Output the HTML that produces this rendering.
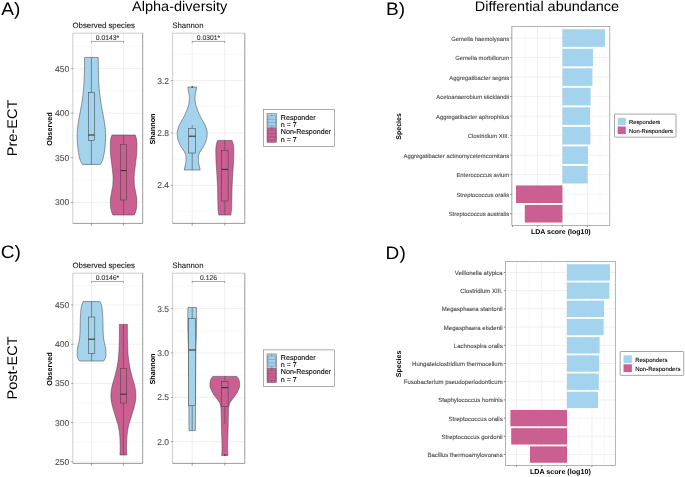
<!DOCTYPE html>
<html><head><meta charset="utf-8"><title>Figure</title>
<style>
html,body{margin:0;padding:0;background:#fff;}
svg{display:block;font-family:"Liberation Sans",Arial,sans-serif;text-rendering:geometricPrecision;}
</style></head>
<body>
<svg width="685" height="477" viewBox="0 0 685 477">
<rect width="685" height="477" fill="#fff"/>
<text transform="translate(1.2,14.8) scale(1.06,1)" font-size="18" >A)</text>
<text transform="translate(385.9,14.8) scale(1.06,1)" font-size="18" >B)</text>
<text transform="translate(0.8,258) scale(1.06,1)" font-size="18" >C)</text>
<text transform="translate(385.6,259) scale(1.06,1)" font-size="18" >D)</text>
<text transform="translate(132.0,11.3) scale(1.038,1)" font-size="14" >Alpha-diversity</text>
<text transform="translate(474.8,11.3) scale(1.032,1)" font-size="14" >Differential abundance</text>
<text transform="translate(17,128) rotate(-90) scale(1.04,1)" font-size="14" text-anchor="middle">Pre-ECT</text>
<text transform="translate(17,368) rotate(-90) scale(1.04,1)" font-size="14" text-anchor="middle">Post-ECT</text>
<rect x="72.8" y="33.2" width="69.89999999999999" height="190.2" fill="#fff"/>
<path d="M72.8,46.3H142.7" stroke="#f0f0f0" stroke-width="0.4"/>
<path d="M72.8,90.9H142.7" stroke="#f0f0f0" stroke-width="0.4"/>
<path d="M72.8,135.5H142.7" stroke="#f0f0f0" stroke-width="0.4"/>
<path d="M72.8,180.1H142.7" stroke="#f0f0f0" stroke-width="0.4"/>
<path d="M72.8,68.6H142.7" stroke="#e9e9e9" stroke-width="0.7"/>
<path d="M72.8,113.2H142.7" stroke="#e9e9e9" stroke-width="0.7"/>
<path d="M72.8,157.8H142.7" stroke="#e9e9e9" stroke-width="0.7"/>
<path d="M72.8,202.4H142.7" stroke="#e9e9e9" stroke-width="0.7"/>
<path d="M91.4,33.2V223.4" stroke="#e9e9e9" stroke-width="0.7"/>
<path d="M123.6,33.2V223.4" stroke="#e9e9e9" stroke-width="0.7"/>
<path d="M71.1,68.6H72.8" stroke="#444" stroke-width="0.5"/>
<path d="M71.1,113.2H72.8" stroke="#444" stroke-width="0.5"/>
<path d="M71.1,157.8H72.8" stroke="#444" stroke-width="0.5"/>
<path d="M71.1,202.4H72.8" stroke="#444" stroke-width="0.5"/>
<path d="M91.4,223.4V225.70000000000002" stroke="#444" stroke-width="0.5"/>
<path d="M123.6,223.4V225.70000000000002" stroke="#444" stroke-width="0.5"/>
<text x="69.3" y="71.6" font-size="8.5" fill="#4d4d4d" stroke="#4d4d4d" stroke-width="0.1" text-anchor="end">450</text>
<text x="69.3" y="116.2" font-size="8.5" fill="#4d4d4d" stroke="#4d4d4d" stroke-width="0.1" text-anchor="end">400</text>
<text x="69.3" y="160.8" font-size="8.5" fill="#4d4d4d" stroke="#4d4d4d" stroke-width="0.1" text-anchor="end">350</text>
<text x="69.3" y="205.4" font-size="8.5" fill="#4d4d4d" stroke="#4d4d4d" stroke-width="0.1" text-anchor="end">300</text>
<text x="72.5" y="28.1" font-size="7.8" fill="#1a1a1a" stroke="#1a1a1a" stroke-width="0.1">Observed species</text>
<text transform="translate(52.2,129.0) rotate(-90)" font-size="7.25" font-weight="bold" fill="#000" text-anchor="middle">Observed</text>
<path d="M91.4,43.1V41.4H123.6V43.1" stroke="#444" stroke-width="0.45" fill="none"/>
<text x="107.5" y="39.8" font-size="6.8" fill="#333" stroke="#333" stroke-width="0.1" text-anchor="middle">0.0143*</text>
<path d="M98.20,57.40 L98.21,58.75 L98.23,60.11 L98.25,61.46 L98.27,62.82 L98.29,64.17 L98.31,65.53 L98.33,66.88 L98.35,68.24 L98.38,69.59 L98.40,70.94 L98.43,72.30 L98.46,73.65 L98.50,75.01 L98.54,76.36 L98.59,77.72 L98.65,79.07 L98.71,80.43 L98.78,81.78 L98.86,83.13 L98.94,84.49 L99.02,85.84 L99.11,87.20 L99.22,88.55 L99.33,89.91 L99.46,91.26 L99.60,92.62 L99.75,93.97 L99.90,95.32 L100.07,96.68 L100.24,98.03 L100.42,99.39 L100.60,100.74 L100.81,102.10 L101.03,103.45 L101.26,104.81 L101.51,106.16 L101.76,107.51 L102.01,108.87 L102.26,110.22 L102.50,111.58 L102.75,112.93 L103.01,114.29 L103.28,115.64 L103.54,116.99 L103.79,118.35 L104.03,119.70 L104.26,121.06 L104.46,122.41 L104.67,123.77 L104.87,125.12 L105.07,126.48 L105.23,127.83 L105.35,129.18 L105.42,130.54 L105.48,131.89 L105.53,133.25 L105.57,134.60 L105.59,135.96 L105.60,137.31 L105.57,138.67 L105.52,140.02 L105.45,141.37 L105.36,142.73 L105.26,144.08 L105.17,145.44 L105.05,146.79 L104.91,148.15 L104.74,149.50 L104.56,150.86 L104.37,152.21 L104.15,153.56 L103.90,154.92 L103.62,156.27 L103.29,157.63 L102.93,158.98 L102.49,160.34 L101.94,161.69 L101.20,163.05 L100.20,164.40 L82.60,164.40 L81.60,163.05 L80.86,161.69 L80.31,160.34 L79.87,158.98 L79.51,157.63 L79.18,156.27 L78.90,154.92 L78.65,153.56 L78.43,152.21 L78.24,150.86 L78.06,149.50 L77.89,148.15 L77.75,146.79 L77.63,145.44 L77.54,144.08 L77.44,142.73 L77.35,141.37 L77.28,140.02 L77.23,138.67 L77.20,137.31 L77.21,135.96 L77.23,134.60 L77.27,133.25 L77.32,131.89 L77.38,130.54 L77.45,129.18 L77.57,127.83 L77.73,126.48 L77.93,125.12 L78.13,123.77 L78.34,122.41 L78.54,121.06 L78.77,119.70 L79.01,118.35 L79.26,116.99 L79.52,115.64 L79.79,114.29 L80.05,112.93 L80.30,111.58 L80.54,110.22 L80.79,108.87 L81.04,107.51 L81.29,106.16 L81.54,104.81 L81.77,103.45 L81.99,102.10 L82.20,100.74 L82.38,99.39 L82.56,98.03 L82.73,96.68 L82.90,95.32 L83.05,93.97 L83.20,92.62 L83.34,91.26 L83.47,89.91 L83.58,88.55 L83.69,87.20 L83.78,85.84 L83.86,84.49 L83.94,83.13 L84.02,81.78 L84.09,80.43 L84.15,79.07 L84.21,77.72 L84.26,76.36 L84.30,75.01 L84.34,73.65 L84.37,72.30 L84.40,70.94 L84.42,69.59 L84.45,68.24 L84.47,66.88 L84.49,65.53 L84.51,64.17 L84.53,62.82 L84.55,61.46 L84.57,60.11 L84.59,58.75 L84.60,57.40Z" fill="#a4d3ed" stroke="#444" stroke-width="0.55" stroke-linejoin="round"/>
<path d="M91.4,57.4V92.6M91.4,140.4V164.4" stroke="#444" stroke-width="0.55" fill="none"/>
<rect x="88.30000000000001" y="92.6" width="6.2" height="47.80000000000001" fill="#a4d3ed" stroke="#444" stroke-width="0.55"/>
<path d="M88.30000000000001,135H94.5" stroke="#333" stroke-width="1.1" fill="none"/>
<path d="M135.10,135.00 L135.55,136.01 L135.94,137.03 L136.21,138.04 L136.39,139.05 L136.56,140.06 L136.70,141.08 L136.81,142.09 L136.88,143.10 L136.90,144.11 L136.90,145.13 L136.89,146.14 L136.88,147.15 L136.87,148.16 L136.85,149.18 L136.84,150.19 L136.82,151.20 L136.79,152.22 L136.75,153.23 L136.67,154.24 L136.57,155.25 L136.45,156.27 L136.33,157.28 L136.20,158.29 L136.08,159.30 L135.97,160.32 L135.85,161.33 L135.73,162.34 L135.60,163.35 L135.47,164.37 L135.34,165.38 L135.21,166.39 L135.09,167.41 L134.97,168.42 L134.86,169.43 L134.75,170.44 L134.64,171.46 L134.52,172.47 L134.41,173.48 L134.30,174.49 L134.21,175.51 L134.14,176.52 L134.10,177.53 L134.10,178.54 L134.12,179.56 L134.15,180.57 L134.19,181.58 L134.25,182.59 L134.31,183.61 L134.37,184.62 L134.45,185.63 L134.58,186.65 L134.75,187.66 L134.94,188.67 L135.15,189.68 L135.37,190.70 L135.57,191.71 L135.75,192.72 L135.92,193.73 L136.11,194.75 L136.30,195.76 L136.48,196.77 L136.64,197.78 L136.75,198.80 L136.80,199.81 L136.80,200.82 L136.79,201.84 L136.78,202.85 L136.76,203.86 L136.73,204.87 L136.70,205.89 L136.64,206.90 L136.49,207.91 L136.30,208.92 L136.06,209.94 L135.81,210.95 L135.53,211.96 L135.17,212.97 L134.75,213.99 L134.30,215.00 L112.90,215.00 L112.45,213.99 L112.03,212.97 L111.67,211.96 L111.39,210.95 L111.14,209.94 L110.90,208.92 L110.71,207.91 L110.56,206.90 L110.50,205.89 L110.47,204.87 L110.44,203.86 L110.42,202.85 L110.41,201.84 L110.40,200.82 L110.40,199.81 L110.45,198.80 L110.56,197.78 L110.72,196.77 L110.90,195.76 L111.09,194.75 L111.28,193.73 L111.45,192.72 L111.63,191.71 L111.83,190.70 L112.05,189.68 L112.26,188.67 L112.45,187.66 L112.62,186.65 L112.75,185.63 L112.83,184.62 L112.89,183.61 L112.95,182.59 L113.01,181.58 L113.05,180.57 L113.08,179.56 L113.10,178.54 L113.10,177.53 L113.06,176.52 L112.99,175.51 L112.90,174.49 L112.79,173.48 L112.68,172.47 L112.56,171.46 L112.45,170.44 L112.34,169.43 L112.23,168.42 L112.11,167.41 L111.99,166.39 L111.86,165.38 L111.73,164.37 L111.60,163.35 L111.47,162.34 L111.35,161.33 L111.23,160.32 L111.12,159.30 L111.00,158.29 L110.87,157.28 L110.75,156.27 L110.63,155.25 L110.53,154.24 L110.45,153.23 L110.41,152.22 L110.38,151.20 L110.36,150.19 L110.35,149.18 L110.33,148.16 L110.32,147.15 L110.31,146.14 L110.30,145.13 L110.30,144.11 L110.32,143.10 L110.39,142.09 L110.50,141.08 L110.64,140.06 L110.81,139.05 L110.99,138.04 L111.26,137.03 L111.65,136.01 L112.10,135.00Z" fill="#cc5f92" stroke="#444" stroke-width="0.55" stroke-linejoin="round"/>
<path d="M123.6,135V144.4M123.6,200V215" stroke="#444" stroke-width="0.55" fill="none"/>
<rect x="120.69999999999999" y="144.4" width="5.8" height="55.599999999999994" fill="#cc5f92" stroke="#444" stroke-width="0.55"/>
<path d="M120.69999999999999,170.6H126.5" stroke="#333" stroke-width="1.1" fill="none"/>
<path d="M72.8,33.2H142.7" stroke="#333" stroke-opacity="0.35" stroke-width="0.7"/>
<path d="M72.8,33.2V223.4" stroke="#333" stroke-opacity="0.35" stroke-width="0.7"/>
<path d="M142.7,33.2V223.4" stroke="#333" stroke-opacity="0.7" stroke-width="0.7"/>
<path d="M72.8,223.4H142.7" stroke="#333" stroke-opacity="0.7" stroke-width="0.7"/>
<rect x="172.6" y="33.2" width="72.20000000000002" height="190.2" fill="#fff"/>
<path d="M172.6,54.4H244.8" stroke="#f0f0f0" stroke-width="0.4"/>
<path d="M172.6,106.7H244.8" stroke="#f0f0f0" stroke-width="0.4"/>
<path d="M172.6,159.1H244.8" stroke="#f0f0f0" stroke-width="0.4"/>
<path d="M172.6,211.4H244.8" stroke="#f0f0f0" stroke-width="0.4"/>
<path d="M172.6,80.6H244.8" stroke="#e9e9e9" stroke-width="0.7"/>
<path d="M172.6,132.9H244.8" stroke="#e9e9e9" stroke-width="0.7"/>
<path d="M172.6,185.3H244.8" stroke="#e9e9e9" stroke-width="0.7"/>
<path d="M192.2,33.2V223.4" stroke="#e9e9e9" stroke-width="0.7"/>
<path d="M224.8,33.2V223.4" stroke="#e9e9e9" stroke-width="0.7"/>
<path d="M170.9,80.6H172.6" stroke="#444" stroke-width="0.5"/>
<path d="M170.9,132.9H172.6" stroke="#444" stroke-width="0.5"/>
<path d="M170.9,185.3H172.6" stroke="#444" stroke-width="0.5"/>
<path d="M192.2,223.4V225.70000000000002" stroke="#444" stroke-width="0.5"/>
<path d="M224.8,223.4V225.70000000000002" stroke="#444" stroke-width="0.5"/>
<text x="169.1" y="83.6" font-size="8.5" fill="#4d4d4d" stroke="#4d4d4d" stroke-width="0.1" text-anchor="end">3.2</text>
<text x="169.1" y="135.9" font-size="8.5" fill="#4d4d4d" stroke="#4d4d4d" stroke-width="0.1" text-anchor="end">2.8</text>
<text x="169.1" y="188.3" font-size="8.5" fill="#4d4d4d" stroke="#4d4d4d" stroke-width="0.1" text-anchor="end">2.4</text>
<text x="172.29999999999998" y="28.1" font-size="7.8" fill="#1a1a1a" stroke="#1a1a1a" stroke-width="0.1">Shannon</text>
<text transform="translate(155.0,129.0) rotate(-90)" font-size="7.25" font-weight="bold" fill="#000" text-anchor="middle">Shannon</text>
<path d="M192.2,43.1V41.4H224.8V43.1" stroke="#444" stroke-width="0.45" fill="none"/>
<text x="208.5" y="39.8" font-size="6.8" fill="#333" stroke="#333" stroke-width="0.1" text-anchor="middle">0.0301*</text>
<path d="M196.40,87.00 L196.36,88.05 L196.28,89.10 L196.18,90.15 L196.00,91.20 L195.76,92.25 L195.52,93.30 L195.35,94.35 L195.21,95.41 L195.08,96.46 L195.01,97.51 L195.01,98.56 L195.05,99.61 L195.14,100.66 L195.25,101.71 L195.37,102.76 L195.53,103.81 L195.79,104.86 L196.11,105.91 L196.46,106.96 L196.80,108.01 L197.16,109.06 L197.54,110.11 L197.94,111.16 L198.37,112.22 L198.82,113.27 L199.30,114.32 L199.82,115.37 L200.36,116.42 L200.92,117.47 L201.48,118.52 L202.08,119.57 L202.69,120.62 L203.30,121.67 L203.86,122.72 L204.39,123.77 L204.91,124.82 L205.41,125.87 L205.85,126.92 L206.19,127.97 L206.49,129.03 L206.77,130.08 L207.00,131.13 L207.16,132.18 L207.20,133.23 L207.17,134.28 L207.09,135.33 L206.99,136.38 L206.87,137.43 L206.72,138.48 L206.48,139.53 L206.14,140.58 L205.75,141.63 L205.33,142.68 L204.88,143.73 L204.35,144.78 L203.77,145.84 L203.15,146.89 L202.54,147.94 L201.87,148.99 L201.13,150.04 L200.41,151.09 L199.78,152.14 L199.33,153.19 L198.96,154.24 L198.64,155.29 L198.44,156.34 L198.40,157.39 L198.40,158.44 L198.40,159.49 L198.40,160.54 L198.43,161.59 L198.58,162.65 L198.81,163.70 L199.05,164.75 L199.26,165.80 L199.48,166.85 L199.71,167.90 L199.95,168.95 L200.20,170.00 L184.20,170.00 L184.45,168.95 L184.69,167.90 L184.92,166.85 L185.14,165.80 L185.35,164.75 L185.59,163.70 L185.82,162.65 L185.97,161.59 L186.00,160.54 L186.00,159.49 L186.00,158.44 L186.00,157.39 L185.96,156.34 L185.76,155.29 L185.44,154.24 L185.07,153.19 L184.62,152.14 L183.99,151.09 L183.27,150.04 L182.53,148.99 L181.86,147.94 L181.25,146.89 L180.63,145.84 L180.05,144.78 L179.52,143.73 L179.07,142.68 L178.65,141.63 L178.26,140.58 L177.92,139.53 L177.68,138.48 L177.53,137.43 L177.41,136.38 L177.31,135.33 L177.23,134.28 L177.20,133.23 L177.24,132.18 L177.40,131.13 L177.63,130.08 L177.91,129.03 L178.21,127.97 L178.55,126.92 L178.99,125.87 L179.49,124.82 L180.01,123.77 L180.54,122.72 L181.10,121.67 L181.71,120.62 L182.32,119.57 L182.92,118.52 L183.48,117.47 L184.04,116.42 L184.58,115.37 L185.10,114.32 L185.58,113.27 L186.03,112.22 L186.46,111.16 L186.86,110.11 L187.24,109.06 L187.60,108.01 L187.94,106.96 L188.29,105.91 L188.61,104.86 L188.87,103.81 L189.03,102.76 L189.15,101.71 L189.26,100.66 L189.35,99.61 L189.39,98.56 L189.39,97.51 L189.32,96.46 L189.19,95.41 L189.05,94.35 L188.88,93.30 L188.64,92.25 L188.40,91.20 L188.22,90.15 L188.12,89.10 L188.04,88.05 L188.00,87.00Z" fill="#a4d3ed" stroke="#444" stroke-width="0.55" stroke-linejoin="round"/>
<path d="M192.2,125V128.4M192.2,153V170" stroke="#444" stroke-width="0.55" fill="none"/>
<rect x="188.7" y="128.4" width="7.0" height="24.599999999999994" fill="#a4d3ed" stroke="#444" stroke-width="0.55"/>
<path d="M188.7,136.2H195.7" stroke="#333" stroke-width="1.1" fill="none"/>
<circle cx="192.2" cy="87" r="0.8" fill="#222"/>
<path d="M232.00,140.40 L232.34,141.34 L232.65,142.29 L232.93,143.23 L233.15,144.18 L233.32,145.12 L233.46,146.07 L233.58,147.01 L233.69,147.95 L233.77,148.90 L233.80,149.84 L233.80,150.79 L233.79,151.73 L233.78,152.68 L233.77,153.62 L233.75,154.56 L233.73,155.51 L233.70,156.45 L233.68,157.40 L233.65,158.34 L233.62,159.29 L233.59,160.23 L233.56,161.17 L233.51,162.12 L233.46,163.06 L233.40,164.01 L233.34,164.95 L233.28,165.90 L233.21,166.84 L233.14,167.78 L233.08,168.73 L233.02,169.67 L232.96,170.62 L232.90,171.56 L232.84,172.51 L232.78,173.45 L232.72,174.39 L232.66,175.34 L232.61,176.28 L232.55,177.23 L232.50,178.17 L232.44,179.12 L232.40,180.06 L232.35,181.01 L232.31,181.95 L232.26,182.89 L232.22,183.84 L232.18,184.78 L232.14,185.73 L232.11,186.67 L232.07,187.62 L232.04,188.56 L232.01,189.50 L231.99,190.45 L231.97,191.39 L231.95,192.34 L231.93,193.28 L231.91,194.23 L231.89,195.17 L231.87,196.11 L231.86,197.06 L231.84,198.00 L231.82,198.95 L231.80,199.89 L231.78,200.84 L231.76,201.78 L231.75,202.72 L231.73,203.67 L231.71,204.61 L231.68,205.56 L231.65,206.50 L231.62,207.45 L231.58,208.39 L231.52,209.33 L231.44,210.28 L231.33,211.22 L231.22,212.17 L231.08,213.11 L230.95,214.06 L230.80,215.00 L218.80,215.00 L218.65,214.06 L218.52,213.11 L218.38,212.17 L218.27,211.22 L218.16,210.28 L218.08,209.33 L218.02,208.39 L217.98,207.45 L217.95,206.50 L217.92,205.56 L217.89,204.61 L217.87,203.67 L217.85,202.72 L217.84,201.78 L217.82,200.84 L217.80,199.89 L217.78,198.95 L217.76,198.00 L217.74,197.06 L217.73,196.11 L217.71,195.17 L217.69,194.23 L217.67,193.28 L217.65,192.34 L217.63,191.39 L217.61,190.45 L217.59,189.50 L217.56,188.56 L217.53,187.62 L217.49,186.67 L217.46,185.73 L217.42,184.78 L217.38,183.84 L217.34,182.89 L217.29,181.95 L217.25,181.01 L217.20,180.06 L217.16,179.12 L217.10,178.17 L217.05,177.23 L216.99,176.28 L216.94,175.34 L216.88,174.39 L216.82,173.45 L216.76,172.51 L216.70,171.56 L216.64,170.62 L216.58,169.67 L216.52,168.73 L216.46,167.78 L216.39,166.84 L216.32,165.90 L216.26,164.95 L216.20,164.01 L216.14,163.06 L216.09,162.12 L216.04,161.17 L216.01,160.23 L215.98,159.29 L215.95,158.34 L215.92,157.40 L215.90,156.45 L215.87,155.51 L215.85,154.56 L215.83,153.62 L215.82,152.68 L215.81,151.73 L215.80,150.79 L215.80,149.84 L215.83,148.90 L215.91,147.95 L216.02,147.01 L216.14,146.07 L216.28,145.12 L216.45,144.18 L216.67,143.23 L216.95,142.29 L217.26,141.34 L217.60,140.40Z" fill="#cc5f92" stroke="#444" stroke-width="0.55" stroke-linejoin="round"/>
<path d="M224.8,140.4V150.4M224.8,201V215" stroke="#444" stroke-width="0.55" fill="none"/>
<rect x="221.5" y="150.4" width="6.6" height="50.599999999999994" fill="#cc5f92" stroke="#444" stroke-width="0.55"/>
<path d="M221.5,169.4H228.10000000000002" stroke="#333" stroke-width="1.1" fill="none"/>
<path d="M172.6,33.2H244.8" stroke="#333" stroke-opacity="0.35" stroke-width="0.7"/>
<path d="M172.6,33.2V223.4" stroke="#333" stroke-opacity="0.35" stroke-width="0.7"/>
<path d="M244.8,33.2V223.4" stroke="#333" stroke-opacity="0.7" stroke-width="0.7"/>
<path d="M172.6,223.4H244.8" stroke="#333" stroke-opacity="0.7" stroke-width="0.7"/>
<rect x="263.4" y="109.6" width="71.2" height="36.8" fill="#fff" stroke="#777" stroke-width="0.6"/>
<rect x="267.0" y="113.6" width="9.6" height="14.4" fill="#a4d3ed" stroke="#666" stroke-width="0.5"/>
<path d="M271.8,113.6V115.75999999999999M271.8,125.83999999999999V128.0M267.8,115.75999999999999H275.8M267.8,119.14399999999999H275.8M267.8,122.45599999999999H275.8M267.8,125.83999999999999H275.8M267.8,115.75999999999999V125.83999999999999M275.8,115.75999999999999V125.83999999999999" stroke="#444" stroke-opacity="0.55" stroke-width="0.5" fill="none"/>
<rect x="267.0" y="128.0" width="9.6" height="14.4" fill="#cc5f92" stroke="#666" stroke-width="0.5"/>
<path d="M271.8,128.0V130.16M271.8,140.24V142.4M267.8,130.16H275.8M267.8,133.544H275.8M267.8,136.856H275.8M267.8,140.24H275.8M267.8,130.16V140.24M275.8,130.16V140.24" stroke="#444" stroke-opacity="0.55" stroke-width="0.5" fill="none"/>
<text x="280.8" y="119.50" font-size="7.12" fill="#000" stroke="#000" stroke-width="0.1">Responder</text>
<text x="280.8" y="127.10" font-size="7.12" fill="#000" stroke="#000" stroke-width="0.1">n = 7</text>
<text x="280.8" y="134.00" font-size="7.12" fill="#000" stroke="#000" stroke-width="0.1">Non-Responder</text>
<text x="280.8" y="141.70" font-size="7.12" fill="#000" stroke="#000" stroke-width="0.1">n = 7</text>
<rect x="72.8" y="273.2" width="69.89999999999999" height="190.2" fill="#fff"/>
<path d="M72.8,285.4H142.7" stroke="#f0f0f0" stroke-width="0.4"/>
<path d="M72.8,324.6H142.7" stroke="#f0f0f0" stroke-width="0.4"/>
<path d="M72.8,363.8H142.7" stroke="#f0f0f0" stroke-width="0.4"/>
<path d="M72.8,403H142.7" stroke="#f0f0f0" stroke-width="0.4"/>
<path d="M72.8,442.2H142.7" stroke="#f0f0f0" stroke-width="0.4"/>
<path d="M72.8,305H142.7" stroke="#e9e9e9" stroke-width="0.7"/>
<path d="M72.8,344.2H142.7" stroke="#e9e9e9" stroke-width="0.7"/>
<path d="M72.8,383.4H142.7" stroke="#e9e9e9" stroke-width="0.7"/>
<path d="M72.8,422.6H142.7" stroke="#e9e9e9" stroke-width="0.7"/>
<path d="M72.8,461.8H142.7" stroke="#e9e9e9" stroke-width="0.7"/>
<path d="M91.6,273.2V463.4" stroke="#e9e9e9" stroke-width="0.7"/>
<path d="M123.4,273.2V463.4" stroke="#e9e9e9" stroke-width="0.7"/>
<path d="M71.1,305H72.8" stroke="#444" stroke-width="0.5"/>
<path d="M71.1,344.2H72.8" stroke="#444" stroke-width="0.5"/>
<path d="M71.1,383.4H72.8" stroke="#444" stroke-width="0.5"/>
<path d="M71.1,422.6H72.8" stroke="#444" stroke-width="0.5"/>
<path d="M71.1,461.8H72.8" stroke="#444" stroke-width="0.5"/>
<path d="M91.6,463.4V465.7" stroke="#444" stroke-width="0.5"/>
<path d="M123.4,463.4V465.7" stroke="#444" stroke-width="0.5"/>
<text x="69.3" y="308.0" font-size="8.5" fill="#4d4d4d" stroke="#4d4d4d" stroke-width="0.1" text-anchor="end">450</text>
<text x="69.3" y="347.2" font-size="8.5" fill="#4d4d4d" stroke="#4d4d4d" stroke-width="0.1" text-anchor="end">400</text>
<text x="69.3" y="386.4" font-size="8.5" fill="#4d4d4d" stroke="#4d4d4d" stroke-width="0.1" text-anchor="end">350</text>
<text x="69.3" y="425.6" font-size="8.5" fill="#4d4d4d" stroke="#4d4d4d" stroke-width="0.1" text-anchor="end">300</text>
<text x="69.3" y="464.8" font-size="8.5" fill="#4d4d4d" stroke="#4d4d4d" stroke-width="0.1" text-anchor="end">250</text>
<text x="72.5" y="268.09999999999997" font-size="7.8" fill="#1a1a1a" stroke="#1a1a1a" stroke-width="0.1">Observed species</text>
<text transform="translate(52.2,368.99999999999994) rotate(-90)" font-size="7.25" font-weight="bold" fill="#000" text-anchor="middle">Observed</text>
<path d="M91.6,283.2V281.5H123.4V283.2" stroke="#444" stroke-width="0.45" fill="none"/>
<text x="107.5" y="279.9" font-size="6.8" fill="#333" stroke="#333" stroke-width="0.1" text-anchor="middle">0.0146*</text>
<path d="M100.10,301.60 L100.44,302.35 L100.76,303.10 L101.05,303.86 L101.29,304.61 L101.49,305.36 L101.66,306.11 L101.82,306.86 L101.97,307.62 L102.09,308.37 L102.20,309.12 L102.29,309.87 L102.36,310.62 L102.42,311.37 L102.48,312.13 L102.54,312.88 L102.59,313.63 L102.64,314.38 L102.69,315.13 L102.73,315.89 L102.77,316.64 L102.80,317.39 L102.84,318.14 L102.86,318.89 L102.89,319.65 L102.91,320.40 L102.93,321.15 L102.95,321.90 L102.96,322.65 L102.97,323.41 L102.99,324.16 L103.00,324.91 L103.01,325.66 L103.02,326.41 L103.03,327.16 L103.05,327.92 L103.06,328.67 L103.08,329.42 L103.11,330.17 L103.13,330.92 L103.16,331.68 L103.20,332.43 L103.24,333.18 L103.28,333.93 L103.33,334.68 L103.38,335.44 L103.44,336.19 L103.50,336.94 L103.57,337.69 L103.65,338.44 L103.76,339.19 L103.89,339.95 L104.04,340.70 L104.21,341.45 L104.38,342.20 L104.56,342.95 L104.73,343.71 L104.89,344.46 L105.04,345.21 L105.20,345.96 L105.37,346.71 L105.54,347.47 L105.69,348.22 L105.81,348.97 L105.89,349.72 L105.92,350.47 L105.94,351.23 L105.96,351.98 L105.98,352.73 L105.99,353.48 L106.00,354.23 L106.00,354.98 L105.95,355.74 L105.82,356.49 L105.62,357.24 L105.40,357.99 L105.11,358.74 L104.69,359.50 L104.18,360.25 L103.60,361.00 L79.60,361.00 L79.02,360.25 L78.51,359.50 L78.09,358.74 L77.80,357.99 L77.58,357.24 L77.38,356.49 L77.25,355.74 L77.20,354.98 L77.20,354.23 L77.21,353.48 L77.22,352.73 L77.24,351.98 L77.26,351.23 L77.28,350.47 L77.31,349.72 L77.39,348.97 L77.51,348.22 L77.66,347.47 L77.83,346.71 L78.00,345.96 L78.16,345.21 L78.31,344.46 L78.47,343.71 L78.64,342.95 L78.82,342.20 L78.99,341.45 L79.16,340.70 L79.31,339.95 L79.44,339.19 L79.55,338.44 L79.63,337.69 L79.70,336.94 L79.76,336.19 L79.82,335.44 L79.87,334.68 L79.92,333.93 L79.96,333.18 L80.00,332.43 L80.04,331.68 L80.07,330.92 L80.09,330.17 L80.12,329.42 L80.14,328.67 L80.15,327.92 L80.17,327.16 L80.18,326.41 L80.19,325.66 L80.20,324.91 L80.21,324.16 L80.23,323.41 L80.24,322.65 L80.25,321.90 L80.27,321.15 L80.29,320.40 L80.31,319.65 L80.34,318.89 L80.36,318.14 L80.40,317.39 L80.43,316.64 L80.47,315.89 L80.51,315.13 L80.56,314.38 L80.61,313.63 L80.66,312.88 L80.72,312.13 L80.78,311.37 L80.84,310.62 L80.91,309.87 L81.00,309.12 L81.11,308.37 L81.23,307.62 L81.38,306.86 L81.54,306.11 L81.71,305.36 L81.91,304.61 L82.15,303.86 L82.44,303.10 L82.76,302.35 L83.10,301.60Z" fill="#a4d3ed" stroke="#444" stroke-width="0.55" stroke-linejoin="round"/>
<path d="M91.6,301.6V317M91.6,353.4V361" stroke="#444" stroke-width="0.55" fill="none"/>
<rect x="88.39999999999999" y="317" width="6.4" height="36.39999999999998" fill="#a4d3ed" stroke="#444" stroke-width="0.55"/>
<path d="M88.39999999999999,339.2H94.8" stroke="#333" stroke-width="1.1" fill="none"/>
<path d="M127.40,324.40 L127.40,326.05 L127.40,327.71 L127.40,329.36 L127.40,331.01 L127.40,332.67 L127.40,334.32 L127.40,335.97 L127.42,337.63 L127.45,339.28 L127.49,340.93 L127.53,342.58 L127.58,344.24 L127.63,345.89 L127.69,347.54 L127.76,349.20 L127.84,350.85 L127.94,352.50 L128.04,354.16 L128.16,355.81 L128.32,357.46 L128.51,359.12 L128.73,360.77 L128.96,362.42 L129.23,364.08 L129.53,365.73 L129.85,367.38 L130.19,369.04 L130.55,370.69 L130.94,372.34 L131.35,373.99 L131.77,375.65 L132.21,377.30 L132.67,378.95 L133.17,380.61 L133.69,382.26 L134.18,383.91 L134.61,385.57 L134.95,387.22 L135.28,388.87 L135.54,390.53 L135.71,392.18 L135.83,393.83 L135.90,395.49 L135.87,397.14 L135.73,398.79 L135.55,400.45 L135.28,402.10 L134.93,403.75 L134.54,405.41 L134.14,407.06 L133.68,408.71 L133.19,410.36 L132.69,412.02 L132.21,413.67 L131.72,415.32 L131.21,416.98 L130.70,418.63 L130.15,420.28 L129.60,421.94 L129.11,423.59 L128.69,425.24 L128.29,426.90 L127.95,428.55 L127.67,430.20 L127.43,431.86 L127.23,433.51 L127.07,435.16 L126.94,436.82 L126.84,438.47 L126.76,440.12 L126.71,441.77 L126.66,443.43 L126.63,445.08 L126.61,446.73 L126.60,448.39 L126.64,450.04 L126.69,451.69 L126.74,453.35 L126.80,455.00 L120.00,455.00 L120.06,453.35 L120.11,451.69 L120.16,450.04 L120.20,448.39 L120.19,446.73 L120.17,445.08 L120.14,443.43 L120.09,441.77 L120.04,440.12 L119.96,438.47 L119.86,436.82 L119.73,435.16 L119.57,433.51 L119.37,431.86 L119.13,430.20 L118.85,428.55 L118.51,426.90 L118.11,425.24 L117.69,423.59 L117.20,421.94 L116.65,420.28 L116.10,418.63 L115.59,416.98 L115.08,415.32 L114.59,413.67 L114.11,412.02 L113.61,410.36 L113.12,408.71 L112.66,407.06 L112.26,405.41 L111.87,403.75 L111.52,402.10 L111.25,400.45 L111.07,398.79 L110.93,397.14 L110.90,395.49 L110.97,393.83 L111.09,392.18 L111.26,390.53 L111.52,388.87 L111.85,387.22 L112.19,385.57 L112.62,383.91 L113.11,382.26 L113.63,380.61 L114.13,378.95 L114.59,377.30 L115.03,375.65 L115.45,373.99 L115.86,372.34 L116.25,370.69 L116.61,369.04 L116.95,367.38 L117.27,365.73 L117.57,364.08 L117.84,362.42 L118.07,360.77 L118.29,359.12 L118.48,357.46 L118.64,355.81 L118.76,354.16 L118.86,352.50 L118.96,350.85 L119.04,349.20 L119.11,347.54 L119.17,345.89 L119.22,344.24 L119.27,342.58 L119.31,340.93 L119.35,339.28 L119.38,337.63 L119.40,335.97 L119.40,334.32 L119.40,332.67 L119.40,331.01 L119.40,329.36 L119.40,327.71 L119.40,326.05 L119.40,324.40Z" fill="#cc5f92" stroke="#444" stroke-width="0.55" stroke-linejoin="round"/>
<path d="M123.4,324.4V368.4M123.4,403V455" stroke="#444" stroke-width="0.55" fill="none"/>
<rect x="120.5" y="368.4" width="5.8" height="34.60000000000002" fill="#cc5f92" stroke="#444" stroke-width="0.55"/>
<path d="M120.5,394.2H126.30000000000001" stroke="#333" stroke-width="1.1" fill="none"/>
<path d="M72.8,273.2H142.7" stroke="#333" stroke-opacity="0.35" stroke-width="0.7"/>
<path d="M72.8,273.2V463.4" stroke="#333" stroke-opacity="0.35" stroke-width="0.7"/>
<path d="M142.7,273.2V463.4" stroke="#333" stroke-opacity="0.7" stroke-width="0.7"/>
<path d="M72.8,463.4H142.7" stroke="#333" stroke-opacity="0.7" stroke-width="0.7"/>
<rect x="172.6" y="273.2" width="72.20000000000002" height="190.2" fill="#fff"/>
<path d="M172.6,286.4H244.8" stroke="#f0f0f0" stroke-width="0.4"/>
<path d="M172.6,330.8H244.8" stroke="#f0f0f0" stroke-width="0.4"/>
<path d="M172.6,375.2H244.8" stroke="#f0f0f0" stroke-width="0.4"/>
<path d="M172.6,419.5H244.8" stroke="#f0f0f0" stroke-width="0.4"/>
<path d="M172.6,308.6H244.8" stroke="#e9e9e9" stroke-width="0.7"/>
<path d="M172.6,353H244.8" stroke="#e9e9e9" stroke-width="0.7"/>
<path d="M172.6,397.4H244.8" stroke="#e9e9e9" stroke-width="0.7"/>
<path d="M172.6,441.6H244.8" stroke="#e9e9e9" stroke-width="0.7"/>
<path d="M192.2,273.2V463.4" stroke="#e9e9e9" stroke-width="0.7"/>
<path d="M224.8,273.2V463.4" stroke="#e9e9e9" stroke-width="0.7"/>
<path d="M170.9,308.6H172.6" stroke="#444" stroke-width="0.5"/>
<path d="M170.9,353H172.6" stroke="#444" stroke-width="0.5"/>
<path d="M170.9,397.4H172.6" stroke="#444" stroke-width="0.5"/>
<path d="M170.9,441.6H172.6" stroke="#444" stroke-width="0.5"/>
<path d="M192.2,463.4V465.7" stroke="#444" stroke-width="0.5"/>
<path d="M224.8,463.4V465.7" stroke="#444" stroke-width="0.5"/>
<text x="169.1" y="311.6" font-size="8.5" fill="#4d4d4d" stroke="#4d4d4d" stroke-width="0.1" text-anchor="end">3.5</text>
<text x="169.1" y="356.0" font-size="8.5" fill="#4d4d4d" stroke="#4d4d4d" stroke-width="0.1" text-anchor="end">3.0</text>
<text x="169.1" y="400.4" font-size="8.5" fill="#4d4d4d" stroke="#4d4d4d" stroke-width="0.1" text-anchor="end">2.5</text>
<text x="169.1" y="444.6" font-size="8.5" fill="#4d4d4d" stroke="#4d4d4d" stroke-width="0.1" text-anchor="end">2.0</text>
<text x="172.29999999999998" y="268.09999999999997" font-size="7.8" fill="#1a1a1a" stroke="#1a1a1a" stroke-width="0.1">Shannon</text>
<text transform="translate(155.0,368.99999999999994) rotate(-90)" font-size="7.25" font-weight="bold" fill="#000" text-anchor="middle">Shannon</text>
<path d="M192.2,283.2V281.5H224.8V283.2" stroke="#444" stroke-width="0.45" fill="none"/>
<text x="208.5" y="279.9" font-size="6.8" fill="#333" stroke="#333" stroke-width="0.1" text-anchor="middle">0.126</text>
<path d="M196.40,307.40 L196.46,308.96 L196.51,310.52 L196.56,312.08 L196.59,313.64 L196.60,315.20 L196.60,316.76 L196.60,318.32 L196.60,319.88 L196.60,321.44 L196.60,322.99 L196.60,324.55 L196.60,326.11 L196.58,327.67 L196.55,329.23 L196.51,330.79 L196.46,332.35 L196.41,333.91 L196.35,335.47 L196.30,337.03 L196.24,338.59 L196.20,340.15 L196.15,341.71 L196.09,343.27 L196.03,344.83 L195.97,346.39 L195.92,347.95 L195.87,349.51 L195.83,351.07 L195.80,352.63 L195.79,354.18 L195.78,355.74 L195.76,357.30 L195.75,358.86 L195.75,360.42 L195.74,361.98 L195.73,363.54 L195.72,365.10 L195.72,366.66 L195.71,368.22 L195.70,369.78 L195.69,371.34 L195.68,372.90 L195.68,374.46 L195.67,376.02 L195.66,377.58 L195.65,379.14 L195.65,380.70 L195.64,382.26 L195.63,383.82 L195.62,385.37 L195.62,386.93 L195.61,388.49 L195.60,390.05 L195.59,391.61 L195.58,393.17 L195.58,394.73 L195.57,396.29 L195.56,397.85 L195.55,399.41 L195.54,400.97 L195.54,402.53 L195.53,404.09 L195.52,405.65 L195.51,407.21 L195.51,408.77 L195.50,410.33 L195.49,411.89 L195.48,413.45 L195.48,415.01 L195.47,416.56 L195.46,418.12 L195.45,419.68 L195.45,421.24 L195.44,422.80 L195.43,424.36 L195.42,425.92 L195.41,427.48 L195.41,429.04 L195.40,430.60 L189.00,430.60 L188.99,429.04 L188.99,427.48 L188.98,425.92 L188.97,424.36 L188.96,422.80 L188.95,421.24 L188.95,419.68 L188.94,418.12 L188.93,416.56 L188.92,415.01 L188.92,413.45 L188.91,411.89 L188.90,410.33 L188.89,408.77 L188.89,407.21 L188.88,405.65 L188.87,404.09 L188.86,402.53 L188.86,400.97 L188.85,399.41 L188.84,397.85 L188.83,396.29 L188.82,394.73 L188.82,393.17 L188.81,391.61 L188.80,390.05 L188.79,388.49 L188.78,386.93 L188.78,385.37 L188.77,383.82 L188.76,382.26 L188.75,380.70 L188.75,379.14 L188.74,377.58 L188.73,376.02 L188.72,374.46 L188.72,372.90 L188.71,371.34 L188.70,369.78 L188.69,368.22 L188.68,366.66 L188.68,365.10 L188.67,363.54 L188.66,361.98 L188.65,360.42 L188.65,358.86 L188.64,357.30 L188.62,355.74 L188.61,354.18 L188.60,352.63 L188.57,351.07 L188.53,349.51 L188.48,347.95 L188.43,346.39 L188.37,344.83 L188.31,343.27 L188.25,341.71 L188.20,340.15 L188.16,338.59 L188.10,337.03 L188.05,335.47 L187.99,333.91 L187.94,332.35 L187.89,330.79 L187.85,329.23 L187.82,327.67 L187.80,326.11 L187.80,324.55 L187.80,322.99 L187.80,321.44 L187.80,319.88 L187.80,318.32 L187.80,316.76 L187.80,315.20 L187.81,313.64 L187.84,312.08 L187.89,310.52 L187.94,308.96 L188.00,307.40Z" fill="#a4d3ed" stroke="#444" stroke-width="0.55" stroke-linejoin="round"/>
<path d="M192.2,307.4V318.6M192.2,405.4V430.6" stroke="#444" stroke-width="0.55" fill="none"/>
<rect x="188.7" y="318.6" width="7.0" height="86.79999999999995" fill="#a4d3ed" stroke="#444" stroke-width="0.55"/>
<path d="M188.7,350H195.7" stroke="#333" stroke-width="1.1" fill="none"/>
<path d="M236.80,376.40 L237.63,377.40 L238.31,378.40 L238.75,379.40 L239.11,380.40 L239.39,381.40 L239.57,382.40 L239.60,383.40 L239.60,384.40 L239.60,385.40 L239.58,386.40 L239.36,387.40 L238.99,388.40 L238.55,389.40 L238.13,390.40 L237.67,391.40 L237.15,392.40 L236.58,393.40 L235.98,394.40 L235.34,395.40 L234.60,396.40 L233.80,397.40 L232.99,398.40 L232.22,399.40 L231.53,400.40 L230.82,401.40 L230.14,402.40 L229.61,403.40 L229.30,404.40 L229.07,405.40 L228.88,406.40 L228.75,407.40 L228.67,408.40 L228.61,409.40 L228.56,410.40 L228.51,411.40 L228.48,412.40 L228.45,413.40 L228.42,414.40 L228.39,415.40 L228.36,416.40 L228.34,417.40 L228.32,418.40 L228.31,419.40 L228.29,420.40 L228.27,421.40 L228.25,422.40 L228.23,423.40 L228.21,424.40 L228.19,425.40 L228.16,426.40 L228.14,427.40 L228.11,428.40 L228.08,429.40 L228.04,430.40 L228.01,431.40 L227.98,432.40 L227.95,433.40 L227.92,434.40 L227.89,435.40 L227.85,436.40 L227.81,437.40 L227.78,438.40 L227.74,439.40 L227.70,440.40 L227.66,441.40 L227.64,442.40 L227.61,443.40 L227.60,444.40 L227.60,445.40 L227.60,446.40 L227.60,447.40 L227.60,448.40 L227.60,449.40 L227.60,450.40 L227.64,451.40 L227.70,452.40 L227.79,453.40 L227.89,454.40 L228.00,455.40 L221.60,455.40 L221.71,454.40 L221.81,453.40 L221.90,452.40 L221.96,451.40 L222.00,450.40 L222.00,449.40 L222.00,448.40 L222.00,447.40 L222.00,446.40 L222.00,445.40 L222.00,444.40 L221.99,443.40 L221.96,442.40 L221.94,441.40 L221.90,440.40 L221.86,439.40 L221.82,438.40 L221.79,437.40 L221.75,436.40 L221.71,435.40 L221.68,434.40 L221.65,433.40 L221.62,432.40 L221.59,431.40 L221.56,430.40 L221.52,429.40 L221.49,428.40 L221.46,427.40 L221.44,426.40 L221.41,425.40 L221.39,424.40 L221.37,423.40 L221.35,422.40 L221.33,421.40 L221.31,420.40 L221.29,419.40 L221.28,418.40 L221.26,417.40 L221.24,416.40 L221.21,415.40 L221.18,414.40 L221.15,413.40 L221.12,412.40 L221.09,411.40 L221.04,410.40 L220.99,409.40 L220.93,408.40 L220.85,407.40 L220.72,406.40 L220.53,405.40 L220.30,404.40 L219.99,403.40 L219.46,402.40 L218.78,401.40 L218.07,400.40 L217.38,399.40 L216.61,398.40 L215.80,397.40 L215.00,396.40 L214.26,395.40 L213.62,394.40 L213.02,393.40 L212.45,392.40 L211.93,391.40 L211.47,390.40 L211.05,389.40 L210.61,388.40 L210.24,387.40 L210.02,386.40 L210.00,385.40 L210.00,384.40 L210.00,383.40 L210.03,382.40 L210.21,381.40 L210.49,380.40 L210.85,379.40 L211.29,378.40 L211.97,377.40 L212.80,376.40Z" fill="#cc5f92" stroke="#444" stroke-width="0.55" stroke-linejoin="round"/>
<path d="M224.8,376.4V381.4M224.8,406.4V423.6" stroke="#444" stroke-width="0.55" fill="none"/>
<rect x="221.5" y="381.4" width="6.6" height="25.0" fill="#cc5f92" stroke="#444" stroke-width="0.55"/>
<path d="M221.5,387.6H228.10000000000002" stroke="#333" stroke-width="1.1" fill="none"/>
<circle cx="224.8" cy="455" r="0.8" fill="#222"/>
<path d="M172.6,273.2H244.8" stroke="#333" stroke-opacity="0.35" stroke-width="0.7"/>
<path d="M172.6,273.2V463.4" stroke="#333" stroke-opacity="0.35" stroke-width="0.7"/>
<path d="M244.8,273.2V463.4" stroke="#333" stroke-opacity="0.7" stroke-width="0.7"/>
<path d="M172.6,463.4H244.8" stroke="#333" stroke-opacity="0.7" stroke-width="0.7"/>
<rect x="263.4" y="349.9" width="71.2" height="36.8" fill="#fff" stroke="#777" stroke-width="0.6"/>
<rect x="267.0" y="353.9" width="9.6" height="14.4" fill="#a4d3ed" stroke="#666" stroke-width="0.5"/>
<path d="M271.8,353.9V356.06M271.8,366.14V368.29999999999995M267.8,356.06H275.8M267.8,359.44399999999996H275.8M267.8,362.756H275.8M267.8,366.14H275.8M267.8,356.06V366.14M275.8,356.06V366.14" stroke="#444" stroke-opacity="0.55" stroke-width="0.5" fill="none"/>
<rect x="267.0" y="368.29999999999995" width="9.6" height="14.4" fill="#cc5f92" stroke="#666" stroke-width="0.5"/>
<path d="M271.8,368.29999999999995V370.46M271.8,380.53999999999996V382.69999999999993M267.8,370.46H275.8M267.8,373.84399999999994H275.8M267.8,377.15599999999995H275.8M267.8,380.53999999999996H275.8M267.8,370.46V380.53999999999996M275.8,370.46V380.53999999999996" stroke="#444" stroke-opacity="0.55" stroke-width="0.5" fill="none"/>
<text x="280.8" y="359.80" font-size="7.12" fill="#000" stroke="#000" stroke-width="0.1">Responder</text>
<text x="280.8" y="367.40" font-size="7.12" fill="#000" stroke="#000" stroke-width="0.1">n = 7</text>
<text x="280.8" y="374.30" font-size="7.12" fill="#000" stroke="#000" stroke-width="0.1">Non-Responder</text>
<text x="280.8" y="382.00" font-size="7.12" fill="#000" stroke="#000" stroke-width="0.1">n = 7</text>
<rect x="511.8" y="26.4" width="97.99999999999994" height="199.0" fill="#fff"/>
<path d="M525,26.4V225.4" stroke="#f0f0f0" stroke-width="0.4"/>
<path d="M550,26.4V225.4" stroke="#f0f0f0" stroke-width="0.4"/>
<path d="M575,26.4V225.4" stroke="#f0f0f0" stroke-width="0.4"/>
<path d="M600,26.4V225.4" stroke="#f0f0f0" stroke-width="0.4"/>
<path d="M512.5,26.4V225.4" stroke="#e9e9e9" stroke-width="0.7"/>
<path d="M537.5,26.4V225.4" stroke="#e9e9e9" stroke-width="0.7"/>
<path d="M562.5,26.4V225.4" stroke="#e9e9e9" stroke-width="0.7"/>
<path d="M587.5,26.4V225.4" stroke="#e9e9e9" stroke-width="0.7"/>
<path d="M511.8,38.05H609.8" stroke="#e9e9e9" stroke-width="0.7"/>
<path d="M511.8,57.57H609.8" stroke="#e9e9e9" stroke-width="0.7"/>
<path d="M511.8,77.09H609.8" stroke="#e9e9e9" stroke-width="0.7"/>
<path d="M511.8,96.61H609.8" stroke="#e9e9e9" stroke-width="0.7"/>
<path d="M511.8,116.13H609.8" stroke="#e9e9e9" stroke-width="0.7"/>
<path d="M511.8,135.65H609.8" stroke="#e9e9e9" stroke-width="0.7"/>
<path d="M511.8,155.17H609.8" stroke="#e9e9e9" stroke-width="0.7"/>
<path d="M511.8,174.69H609.8" stroke="#e9e9e9" stroke-width="0.7"/>
<path d="M511.8,194.21H609.8" stroke="#e9e9e9" stroke-width="0.7"/>
<path d="M511.8,213.73H609.8" stroke="#e9e9e9" stroke-width="0.7"/>
<rect x="562.4" y="29.27" width="42.60" height="17.57" fill="#a4d3ed"/>
<path d="M510.2,38.05H511.8" stroke="#333" stroke-width="0.6"/>
<text x="509.1" y="40.55" font-size="5.85" fill="#4d4d4d" stroke="#4d4d4d" stroke-width="0.12" text-anchor="end">Gemella haemolysans</text>
<rect x="562.4" y="48.79" width="30.60" height="17.57" fill="#a4d3ed"/>
<path d="M510.2,57.57H511.8" stroke="#333" stroke-width="0.6"/>
<text x="509.1" y="60.07" font-size="5.85" fill="#4d4d4d" stroke="#4d4d4d" stroke-width="0.12" text-anchor="end">Gemella morbillorum</text>
<rect x="562.4" y="68.31" width="30.00" height="17.57" fill="#a4d3ed"/>
<path d="M510.2,77.09H511.8" stroke="#333" stroke-width="0.6"/>
<text x="509.1" y="79.59" font-size="5.85" fill="#4d4d4d" stroke="#4d4d4d" stroke-width="0.12" text-anchor="end">Aggregatibacter segnis</text>
<rect x="562.4" y="87.83" width="28.20" height="17.57" fill="#a4d3ed"/>
<path d="M510.2,96.61H511.8" stroke="#333" stroke-width="0.6"/>
<text x="509.1" y="99.11" font-size="5.85" fill="#4d4d4d" stroke="#4d4d4d" stroke-width="0.12" text-anchor="end">Acetoanaerobium sticklandii</text>
<rect x="562.4" y="107.35" width="27.80" height="17.57" fill="#a4d3ed"/>
<path d="M510.2,116.13H511.8" stroke="#333" stroke-width="0.6"/>
<text x="509.1" y="118.63" font-size="5.85" fill="#4d4d4d" stroke="#4d4d4d" stroke-width="0.12" text-anchor="end">Aggregatibacter aphrophilus</text>
<rect x="562.4" y="126.87" width="28.00" height="17.57" fill="#a4d3ed"/>
<path d="M510.2,135.65H511.8" stroke="#333" stroke-width="0.6"/>
<text x="509.1" y="138.15" font-size="5.85" fill="#4d4d4d" stroke="#4d4d4d" stroke-width="0.12" text-anchor="end">Clostridium XIII.</text>
<rect x="562.4" y="146.39" width="25.60" height="17.57" fill="#a4d3ed"/>
<path d="M510.2,155.17H511.8" stroke="#333" stroke-width="0.6"/>
<text x="509.1" y="157.67" font-size="5.85" fill="#4d4d4d" stroke="#4d4d4d" stroke-width="0.12" text-anchor="end">Aggregatibacter actinomycetemcomitans</text>
<rect x="562.4" y="165.91" width="25.20" height="17.57" fill="#a4d3ed"/>
<path d="M510.2,174.69H511.8" stroke="#333" stroke-width="0.6"/>
<text x="509.1" y="177.19" font-size="5.85" fill="#4d4d4d" stroke="#4d4d4d" stroke-width="0.12" text-anchor="end">Enterococcus avium</text>
<rect x="516" y="185.43" width="46.40" height="17.57" fill="#cc5f92"/>
<path d="M510.2,194.21H511.8" stroke="#333" stroke-width="0.6"/>
<text x="509.1" y="196.71" font-size="5.85" fill="#4d4d4d" stroke="#4d4d4d" stroke-width="0.12" text-anchor="end">Streptococcus oralis</text>
<rect x="524.8" y="204.95" width="37.60" height="17.57" fill="#cc5f92"/>
<path d="M510.2,213.73H511.8" stroke="#333" stroke-width="0.6"/>
<text x="509.1" y="216.23" font-size="5.85" fill="#4d4d4d" stroke="#4d4d4d" stroke-width="0.12" text-anchor="end">Streptococcus australis</text>
<path d="M512.5,225.4V226.9" stroke="#333" stroke-width="0.6"/>
<path d="M537.5,225.4V226.9" stroke="#333" stroke-width="0.6"/>
<path d="M562.5,225.4V226.9" stroke="#333" stroke-width="0.6"/>
<path d="M587.5,225.4V226.9" stroke="#333" stroke-width="0.6"/>
<rect x="511.8" y="26.4" width="97.99999999999994" height="199.0" fill="none" stroke="#939393" stroke-width="0.7"/>
<text transform="translate(401.4,126.4) rotate(-90)" font-size="7" font-weight="bold" fill="#000" text-anchor="middle">Species</text>
<text x="560.8" y="234" font-size="7.0" font-weight="bold" fill="#000" text-anchor="middle">LDA score (log10)</text>
<rect x="614.5" y="114.1" width="61.50" height="23.10" rx="0.8" fill="#fff" stroke="#6a6a6a" stroke-width="0.6"/>
<rect x="617.70" y="117.80" width="8.10" height="7.50" fill="#a4d3ed"/>
<rect x="617.70" y="126.50" width="8.10" height="7.50" fill="#cc5f92"/>
<text x="629.00" y="123.90" font-size="5.80" fill="#000" stroke="#000" stroke-width="0.1">Responders</text>
<text x="629.00" y="132.60" font-size="5.80" fill="#000" stroke="#000" stroke-width="0.1">Non-Responders</text>
<rect x="505.4" y="261.4" width="109.89999999999998" height="204.0" fill="#fff"/>
<path d="M529.1,261.4V465.4" stroke="#f0f0f0" stroke-width="0.4"/>
<path d="M554.2,261.4V465.4" stroke="#f0f0f0" stroke-width="0.4"/>
<path d="M579.3,261.4V465.4" stroke="#f0f0f0" stroke-width="0.4"/>
<path d="M604.4,261.4V465.4" stroke="#f0f0f0" stroke-width="0.4"/>
<path d="M516.6,261.4V465.4" stroke="#e9e9e9" stroke-width="0.7"/>
<path d="M541.7,261.4V465.4" stroke="#e9e9e9" stroke-width="0.7"/>
<path d="M566.8,261.4V465.4" stroke="#e9e9e9" stroke-width="0.7"/>
<path d="M591.9,261.4V465.4" stroke="#e9e9e9" stroke-width="0.7"/>
<path d="M505.4,272.45H615.3" stroke="#e9e9e9" stroke-width="0.7"/>
<path d="M505.4,290.66H615.3" stroke="#e9e9e9" stroke-width="0.7"/>
<path d="M505.4,308.87H615.3" stroke="#e9e9e9" stroke-width="0.7"/>
<path d="M505.4,327.08H615.3" stroke="#e9e9e9" stroke-width="0.7"/>
<path d="M505.4,345.29H615.3" stroke="#e9e9e9" stroke-width="0.7"/>
<path d="M505.4,363.50H615.3" stroke="#e9e9e9" stroke-width="0.7"/>
<path d="M505.4,381.71H615.3" stroke="#e9e9e9" stroke-width="0.7"/>
<path d="M505.4,399.92H615.3" stroke="#e9e9e9" stroke-width="0.7"/>
<path d="M505.4,418.13H615.3" stroke="#e9e9e9" stroke-width="0.7"/>
<path d="M505.4,436.34H615.3" stroke="#e9e9e9" stroke-width="0.7"/>
<path d="M505.4,454.55H615.3" stroke="#e9e9e9" stroke-width="0.7"/>
<rect x="567" y="264.26" width="43.00" height="16.39" fill="#a4d3ed"/>
<path d="M503.79999999999995,272.45H505.4" stroke="#333" stroke-width="0.6"/>
<text x="502.7" y="274.95" font-size="6.03" fill="#4d4d4d" stroke="#4d4d4d" stroke-width="0.12" text-anchor="end">Veillonella atypica</text>
<rect x="567" y="282.47" width="42.40" height="16.39" fill="#a4d3ed"/>
<path d="M503.79999999999995,290.66H505.4" stroke="#333" stroke-width="0.6"/>
<text x="502.7" y="293.16" font-size="6.03" fill="#4d4d4d" stroke="#4d4d4d" stroke-width="0.12" text-anchor="end">Clostridium XIII.</text>
<rect x="567" y="300.68" width="37.00" height="16.39" fill="#a4d3ed"/>
<path d="M503.79999999999995,308.87H505.4" stroke="#333" stroke-width="0.6"/>
<text x="502.7" y="311.37" font-size="6.03" fill="#4d4d4d" stroke="#4d4d4d" stroke-width="0.12" text-anchor="end">Megasphaera stantonii</text>
<rect x="567" y="318.89" width="36.60" height="16.39" fill="#a4d3ed"/>
<path d="M503.79999999999995,327.08H505.4" stroke="#333" stroke-width="0.6"/>
<text x="502.7" y="329.58" font-size="6.03" fill="#4d4d4d" stroke="#4d4d4d" stroke-width="0.12" text-anchor="end">Megasphaera elsdenii</text>
<rect x="567" y="337.10" width="32.60" height="16.39" fill="#a4d3ed"/>
<path d="M503.79999999999995,345.29H505.4" stroke="#333" stroke-width="0.6"/>
<text x="502.7" y="347.79" font-size="6.03" fill="#4d4d4d" stroke="#4d4d4d" stroke-width="0.12" text-anchor="end">Lachnospira oralis</text>
<rect x="567" y="355.31" width="32.20" height="16.39" fill="#a4d3ed"/>
<path d="M503.79999999999995,363.50H505.4" stroke="#333" stroke-width="0.6"/>
<text x="502.7" y="366.00" font-size="6.03" fill="#4d4d4d" stroke="#4d4d4d" stroke-width="0.12" text-anchor="end">Hungateiclostridium thermocellum</text>
<rect x="567" y="373.52" width="31.80" height="16.39" fill="#a4d3ed"/>
<path d="M503.79999999999995,381.71H505.4" stroke="#333" stroke-width="0.6"/>
<text x="502.7" y="384.21" font-size="6.03" fill="#4d4d4d" stroke="#4d4d4d" stroke-width="0.12" text-anchor="end">Fusobacterium pseudoperiodonticum</text>
<rect x="567" y="391.73" width="31.00" height="16.39" fill="#a4d3ed"/>
<path d="M503.79999999999995,399.92H505.4" stroke="#333" stroke-width="0.6"/>
<text x="502.7" y="402.42" font-size="6.03" fill="#4d4d4d" stroke="#4d4d4d" stroke-width="0.12" text-anchor="end">Staphylococcus hominis</text>
<rect x="510.4" y="409.94" width="56.60" height="16.39" fill="#cc5f92"/>
<path d="M503.79999999999995,418.13H505.4" stroke="#333" stroke-width="0.6"/>
<text x="502.7" y="420.63" font-size="6.03" fill="#4d4d4d" stroke="#4d4d4d" stroke-width="0.12" text-anchor="end">Streptococcus oralis</text>
<rect x="511.2" y="428.15" width="55.80" height="16.39" fill="#cc5f92"/>
<path d="M503.79999999999995,436.34H505.4" stroke="#333" stroke-width="0.6"/>
<text x="502.7" y="438.84" font-size="6.03" fill="#4d4d4d" stroke="#4d4d4d" stroke-width="0.12" text-anchor="end">Streptococcus gordonii</text>
<rect x="530" y="446.36" width="37.00" height="16.39" fill="#cc5f92"/>
<path d="M503.79999999999995,454.55H505.4" stroke="#333" stroke-width="0.6"/>
<text x="502.7" y="457.05" font-size="6.03" fill="#4d4d4d" stroke="#4d4d4d" stroke-width="0.12" text-anchor="end">Bacillus thermoamylovorans</text>
<path d="M516.6,465.4V466.9" stroke="#333" stroke-width="0.6"/>
<path d="M541.7,465.4V466.9" stroke="#333" stroke-width="0.6"/>
<path d="M566.8,465.4V466.9" stroke="#333" stroke-width="0.6"/>
<path d="M591.9,465.4V466.9" stroke="#333" stroke-width="0.6"/>
<rect x="505.4" y="261.4" width="109.89999999999998" height="204.0" fill="none" stroke="#939393" stroke-width="0.7"/>
<text transform="translate(401.4,363.9) rotate(-90)" font-size="7" font-weight="bold" fill="#000" text-anchor="middle">Species</text>
<text x="560.3499999999999" y="474" font-size="7.15" font-weight="bold" fill="#000" text-anchor="middle">LDA score (log10)</text>
<rect x="620.2" y="351.5" width="63.53" height="23.86" rx="0.8" fill="#fff" stroke="#6a6a6a" stroke-width="0.6"/>
<rect x="623.51" y="355.32" width="8.37" height="7.75" fill="#a4d3ed"/>
<rect x="623.51" y="364.31" width="8.37" height="7.75" fill="#cc5f92"/>
<text x="635.18" y="361.62" font-size="5.99" fill="#000" stroke="#000" stroke-width="0.1">Responders</text>
<text x="635.18" y="370.61" font-size="5.99" fill="#000" stroke="#000" stroke-width="0.1">Non-Responders</text>
</svg>
</body></html>
